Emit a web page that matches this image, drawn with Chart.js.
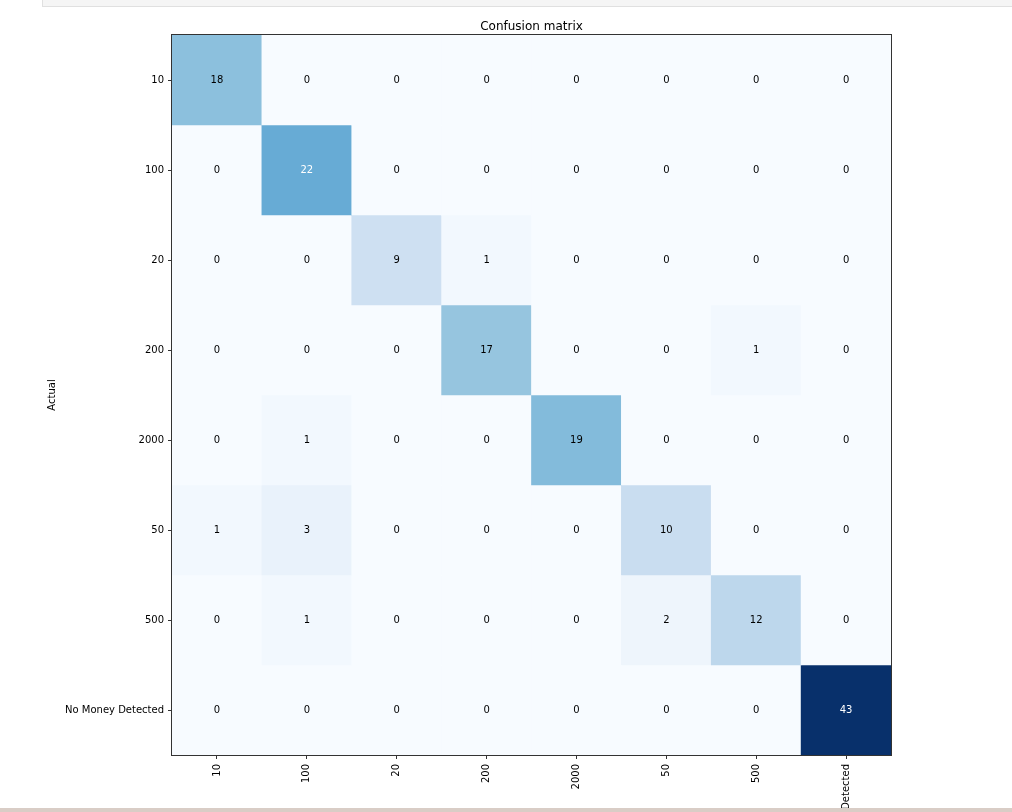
<!DOCTYPE html>
<html>
<head>
<meta charset="utf-8">
<script src="https://cdn.jsdelivr.net/npm/chart.js@4.4.1/dist/chart.umd.min.js"></script>
<style>
  html, body { margin: 0; padding: 0; background: #fff; overflow: hidden; }
  #contenedor { position: relative; width: 1012px; height: 812px; }
  #barraSup { position: absolute; left: 42px; top: -1px; width: 980px; height: 6px; background: #f5f5f5; border: 1px solid #e0e0e0; }
  #barraInf { position: absolute; left: 0; top: 808px; width: 1012px; height: 4px; background: #d9cdc6; }
  canvas { position: absolute; left: 0; top: 0; }
</style>
</head>
<body>
<div id="contenedor">
  <canvas id="matriz" width="1012" height="812"></canvas>
  <div id="barraSup"></div>
  <div id="barraInf"></div>
</div>
<script>
// Clases (mismo orden en filas y columnas)
const etiquetas = ["10", "100", "20", "200", "2000", "50", "500", "No Money Detected"];

// Filas = real, columnas = predicho
const fila10     = [18, 0, 0, 0, 0, 0, 0, 0];
const fila100    = [0, 22, 0, 0, 0, 0, 0, 0];
const fila20     = [0, 0, 9, 1, 0, 0, 0, 0];
const fila200    = [0, 0, 0, 17, 0, 0, 1, 0];
const fila2000   = [0, 1, 0, 0, 19, 0, 0, 0];
const fila50     = [1, 3, 0, 0, 0, 10, 0, 0];
const fila500    = [0, 1, 0, 0, 0, 2, 12, 0];
const filaNoMoney = [0, 0, 0, 0, 0, 0, 0, 43];

const matriz = [fila10, fila100, fila20, fila200, fila2000, fila50, fila500, filaNoMoney];

const vmax = Math.max(...matriz.flat());
const umbral = vmax / 2;

// Mapa de color "Blues" de matplotlib
const paradasBlues = [
  [247, 251, 255], [222, 235, 247], [198, 219, 239], [158, 202, 225],
  [107, 174, 214], [66, 146, 198], [33, 113, 181], [8, 81, 156], [8, 48, 107]
];

function colorBlues(t) {
  t = Math.min(1, Math.max(0, t));
  const pos = t * (paradasBlues.length - 1);
  const i = Math.min(paradasBlues.length - 2, Math.floor(pos));
  const f = pos - i;
  const a = paradasBlues[i], b = paradasBlues[i + 1];
  const c = a.map((v, k) => Math.round(v + (b[k] - v) * f));
  return `rgb(${c[0]},${c[1]},${c[2]})`;
}

// Una serie por fila; cada celda es un bloque de altura 1 apilado
const datasets = matriz.map((fila, i) => ({
  label: etiquetas[i],
  data: fila.map(() => 1),
  backgroundColor: fila.map(v => colorBlues(v / vmax)),
  xAxisID: "x",
  yAxisID: "y",
  borderWidth: 0,
  borderSkipped: false,
  barPercentage: 1,
  categoryPercentage: 1
}));

// Números dentro de cada celda
const anotaciones = {
  id: "anotaciones",
  afterDatasetsDraw(chart) {
    const ctx = chart.ctx;
    ctx.save();
    ctx.font = '10px "DejaVu Sans"';
    ctx.textAlign = "center";
    ctx.textBaseline = "middle";
    chart.data.datasets.forEach((ds, i) => {
      const meta = chart.getDatasetMeta(i);
      meta.data.forEach((bar, j) => {
        const v = matriz[i][j];
        const c = bar.getCenterPoint();
        ctx.fillStyle = v > umbral ? "#fff" : "#000";
        ctx.fillText(String(v), c.x, c.y);
      });
    });
    ctx.restore();
  }
};

// Marco completo alrededor del área
const marco = {
  id: "marco",
  afterDraw(chart) {
    const { left, top, right, bottom } = chart.chartArea;
    const ctx = chart.ctx;
    ctx.save();
    ctx.strokeStyle = "#333";
    ctx.lineWidth = 1;
    ctx.strokeRect(left - 0.5, top - 0.5, right - left + 1, bottom - top + 1);
    ctx.restore();
  }
};

const fuente = { family: '"DejaVu Sans"', size: 10 };

new Chart(document.getElementById("matriz"), {
  type: "bar",
  data: { labels: etiquetas, datasets },
  plugins: [anotaciones, marco],
  options: {
    responsive: false,
    animation: false,
    devicePixelRatio: 1,
    layout: { padding: { left: 40, right: 121, top: 18, bottom: 0 } },
    plugins: {
      legend: { display: false },
      tooltip: { enabled: false }
    },
    scales: {
      x: {
        type: "category",
        stacked: true,
        offset: true,
        border: { display: false },
        grid: { offset: false, drawOnChartArea: false, drawTicks: true, tickLength: 4, tickColor: "#333" },
        ticks: { autoSkip: false, minRotation: 90, maxRotation: 90, padding: 5, color: "#000", font: fuente },
        afterFit: (scale) => { scale.height = 57; }
      },
      // eje superior solo para el título, centrado sobre la matriz
      xTitulo: {
        type: "category",
        position: "top",
        border: { display: false },
        grid: { display: false },
        ticks: { display: false },
        title: {
          display: true,
          text: "Confusion matrix",
          color: "#000",
          font: { family: '"DejaVu Sans"', size: 12, weight: "normal" },
          padding: { top: 2, bottom: 0 }
        },
        afterFit: (scale) => { scale.height = 17; }
      },
      y: {
        type: "linear",
        stacked: true,
        min: 0,
        max: etiquetas.length,
        reverse: true,
        border: { display: false },
        grid: { drawOnChartArea: false, drawTicks: true, tickLength: 4, tickColor: "#333" },
        afterBuildTicks: (scale) => {
          scale.ticks = etiquetas.map((_, i) => ({ value: i + 0.5 }));
        },
        ticks: {
          padding: 4,
          color: "#000",
          font: fuente,
          callback: (valor, indice) => etiquetas[indice]
        },
        title: {
          display: true,
          text: "Actual",
          color: "#000",
          font: fuente,
          padding: { top: 6, bottom: 0 }
        },
        afterFit: (scale) => { scale.width = 132; }
      }
    }
  }
});
</script>
</body>
</html>
